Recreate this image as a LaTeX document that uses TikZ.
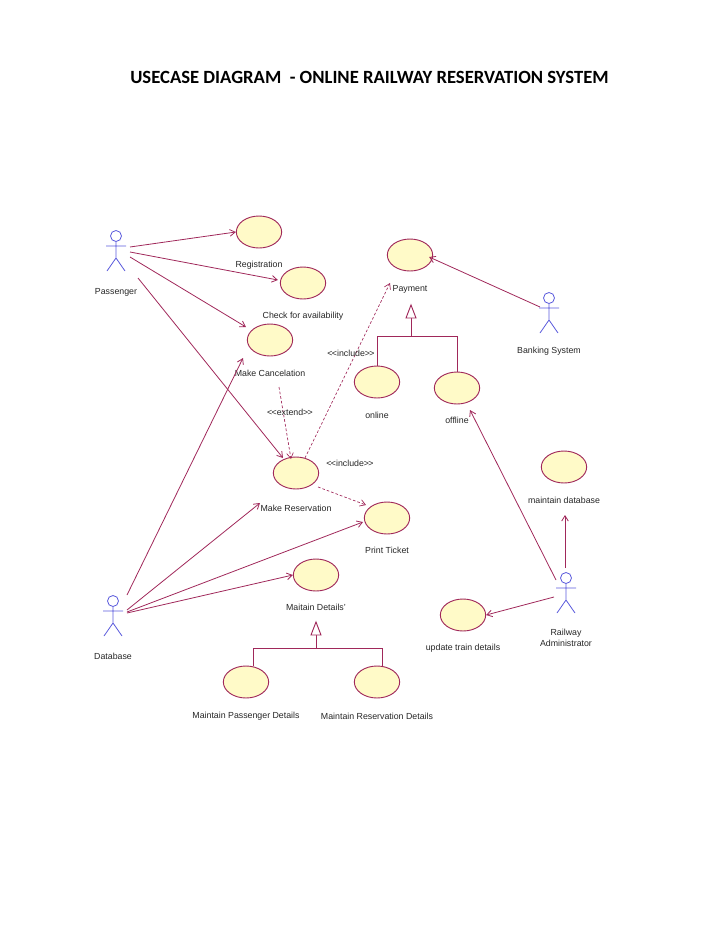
\documentclass[tikz,border=0pt]{standalone}
\usepackage{fontspec}
\setmainfont{Liberation Sans}
\newfontfamily\titlefont{Carlito}
\usetikzlibrary{arrows.meta,shapes.geometric}
\definecolor{ln}{RGB}{160,40,90}
\definecolor{uc}{RGB}{255,250,200}
\definecolor{act}{RGB}{90,90,220}
\tikzset{
 usecase/.style={ellipse,draw=ln,fill=uc,line width=0.7pt,minimum width=34pt,minimum height=24pt,inner sep=0pt},
 lbl/.style={font=\fontsize{6.6}{7.5}\selectfont,inner sep=0pt,align=center,text=black!85},
 assoc/.style={draw=ln,line width=0.6pt,-{Straight Barb[length=4pt,width=5pt]}},
 dep/.style={draw=ln,line width=0.5pt,dashed,dash pattern=on 2pt off 1.5pt,-{Straight Barb[length=4pt,width=5pt]}},
 gen/.style={draw=ln,line width=0.7pt},
}
\newcommand{\actor}[2]{%
 \begin{scope}[shift={(#1)},draw=act,line width=0.6pt]
  \draw[act] (0,-14) circle[radius=5.5];
  \draw[act] (0,-8.5)--(0,8) (-10,-4)--(10,-4) (-9,21)--(0,8)--(9,21);
 \end{scope}
 \coordinate (#2) at (#1);}
\newcommand{\stereo}[1]{\textless\kern-0.5pt\textless#1\textgreater\kern-0.5pt\textgreater}
\begin{document}
\begin{tikzpicture}[x=0.75pt,y=-0.75pt]
\useasboundingbox (0,0) rectangle (728,943);
\node[font=\titlefont\bfseries\fontsize{14}{16}\selectfont,anchor=west,inner sep=0pt] (title) at (130,77) {USECASE DIAGRAM \ - ONLINE RAILWAY RESERVATION SYSTEM};
% use cases
\node[usecase] (reg) at (259,232) {};
\node[lbl] (regl) at (259,265) {Registration};
\node[usecase] (chk) at (303,283) {};
\node[lbl] (chkl) at (303,316) {Check for availability};
\node[usecase] (can) at (270,340) {};
\node[lbl] (canl) at (270,373) {Make Cancelation};
\node[usecase] (pay) at (410,255) {};
\node[lbl] (payl) at (410,289) {Payment};
\node[usecase] (onl) at (377,382) {};
\node[lbl] (onll) at (377,415) {online};
\node[usecase] (off) at (457,388) {};
\node[lbl] (offl) at (457,420) {offline};
\node[usecase] (res) at (296,473) {};
\node[lbl] (resl) at (296,508) {Make Reservation};
\node[usecase] (prt) at (387,518) {};
\node[lbl] (prtl) at (387,550) {Print Ticket};
\node[usecase] (mdt) at (316,575) {};
\node[lbl] (mdtl) at (316,607) {Maitain Details'};
\node[usecase] (mpd) at (246,682) {};
\node[lbl] (mpdl) at (246,716) {Maintain Passenger Details};
\node[usecase] (mrd) at (377,682) {};
\node[lbl] (mrdl) at (377,716) {Maintain Reservation Details};
\node[usecase] (mdb) at (564,467) {};
\node[lbl] (mdbl) at (564,500) {maintain database};
\node[usecase] (utd) at (463,615) {};
\node[lbl] (utdl) at (463,648) {update train details};
% actors
\actor{116,250}{pas}
\node[lbl] (pasl) at (116,292) {Passenger};
\actor{549,312}{bank}
\node[lbl] (bankl) at (549,351) {Banking System};
\actor{113,615}{db}
\node[lbl] (dbl) at (113,656) {Database};
\actor{566,592}{adm}
\node[lbl] (adml) at (566,638) {Railway\\[1pt]Administrator};
% associations
\draw[assoc] ([shift={(14,-3)}]pas) -- (reg.west);
\draw[assoc] ([shift={(14,2)}]pas) -- ([shift={(-2,-3)}]chk.west);
\draw[assoc] ([shift={(14,7)}]pas) -- ([shift={(-24,-13)}]can.center);
\draw[assoc] ([shift={(22,28)}]pas) -- ([shift={(-13,-15)}]res.center);
\draw[assoc] ([shift={(14,-20)}]db) -- ([shift={(-27,18)}]can.center);
\draw[assoc] ([shift={(14,-5)}]db) -- ([shift={(-36,30)}]res.center);
\draw[assoc] ([shift={(14,-3)}]db) -- ([shift={(-24,4)}]prt.center);
\draw[assoc] ([shift={(14,-2)}]db) -- (mdt.west);
\draw[assoc] ([shift={(-9,-5)}]bank) -- ([shift={(-4,2)}]pay.east);
\draw[assoc] ([shift={(-10,-12)}]adm) -- ([shift={(13,22)}]off.center);
\draw[assoc] ([shift={(-1,-24)}]adm) -- ([shift={(1,48)}]mdb.center);
\draw[assoc] ([shift={(-12,5)}]adm) -- (utd.east);
% dependencies
\draw[dep] ([shift={(9,47)}]can.center) -- ([shift={(-5,-14)}]res.center);
\draw[dep] ([shift={(9,-15)}]res.center) -- ([shift={(-20,28)}]pay.center);
\draw[dep] ([shift={(22,14)}]res.center) -- ([shift={(-21,-13)}]prt.center);
\node[lbl] (ext) at (290,412) {\stereo{extend}};
\node[lbl] (inc1) at (351,353) {\stereo{include}};
\node[lbl] (inc2) at (350,463) {\stereo{include}};
% generalisations
\coordinate (pj) at (411,336);
\draw[gen] (onl.north) -- (377,336) -- (457,336) -- (off.north);
\draw[gen] (pj) -- (411,318);
\draw[gen,fill=white] (411,318) -- (406,318) -- (411,305) -- (416,318) -- cycle;
\coordinate (mj) at (316,648);
\draw[gen] (253,666) -- (253,648) -- (382,648) -- (382,666);
\draw[gen] (mj) -- (316,635);
\draw[gen,fill=white] (316,635) -- (311,635) -- (316,622) -- (321,635) -- cycle;
\end{tikzpicture}
\end{document}
